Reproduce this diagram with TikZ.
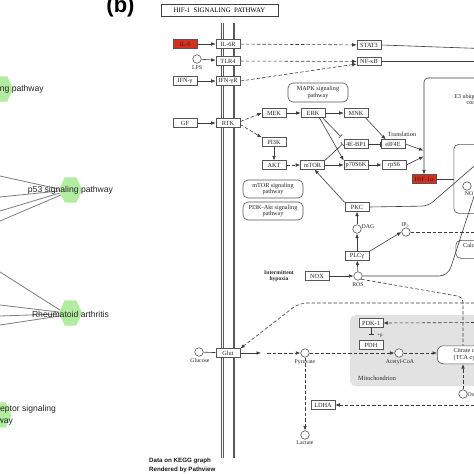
\documentclass[tikz,border=0pt]{standalone}
\usepackage{fontspec}
\setmainfont{Liberation Serif}
\newfontfamily\lsans{Liberation Sans}
\usetikzlibrary{arrows.meta}
\definecolor{hexgreen}{RGB}{178,236,160}
\definecolor{linegray}{RGB}{125,125,125}
\definecolor{kline}{RGB}{60,60,60}
\definecolor{kbox}{RGB}{85,85,85}
\definecolor{kred}{RGB}{218,46,28}
\definecolor{mitogray}{RGB}{226,226,226}
\newcommand\hexfill[1]{\fill[hexgreen] (#1.west) -- ([xshift=6pt]#1.north west) -- ([xshift=-6pt]#1.north east) -- (#1.east) -- ([xshift=-6pt]#1.south east) -- ([xshift=6pt]#1.south west) -- cycle;}
\begin{document}
\begin{tikzpicture}[x=1pt,y=-1pt,
  gene/.style={draw=kbox, fill=white, line width=0.6pt, minimum width=24pt, minimum height=8.5pt, inner sep=0pt, font=\fontsize{6.3}{7}\selectfont, text=black!85},
  redgene/.style={gene, fill=kred},
  cpd/.style={circle, draw=kbox, fill=white, line width=0.6pt, minimum size=8.5pt, inner sep=0pt},
  lbl/.style={inner sep=0pt, font=\fontsize{5.8}{6.4}\selectfont, text=black!85},
  mapbox/.style={draw=kbox, fill=white, line width=0.6pt, rounded corners=5pt, minimum width=60pt, minimum height=18pt, align=center, inner sep=0pt, font=\fontsize{6.2}{6.6}\selectfont, text=black!85},
  arr/.style={kline, line width=0.6pt, -{Latex[length=4.5pt,width=3.6pt]}},
  inh/.style={kline, line width=0.6pt, -{Bar[width=5pt]}},
  dsh/.style={dash pattern=on 3.5pt off 2pt},
  kln/.style={kline, line width=0.6pt},
  hexnode/.style={inner sep=0pt, minimum width=23pt, minimum height=25pt},
  hexlabel/.style={inner sep=0pt, font=\lsans\fontsize{8.6}{12}\selectfont, text=black!85},
  lpedge/.style={linegray, line width=0.8pt},
  memb/.style={black!65, line width=0.7pt}
]
\useasboundingbox (0,0) rectangle (474,474);
\clip (0,0) rectangle (474,474);

% ---------------- left panel ----------------
\node[hexnode] (hxA) at (1.5,89) {};
\node[hexnode] (hxB) at (70.5,190) {};
\node[hexnode] (hxC) at (70.5,313) {};
\node[hexnode] (hxD) at (0,415) {};
\coordinate (lb1) at (0,176);
\coordinate (lb2) at (0,197);
\coordinate (lb3) at (0,211);
\coordinate (lb4) at (0,221);
\coordinate (lc1) at (0,272);
\coordinate (lc2) at (0,305);
\coordinate (lc3) at (0,316);
\coordinate (lc4) at (0,325);
\draw[lpedge] (lb1) -- ([yshift=1pt]hxB.west);
\draw[lpedge] (lb2) -- ([yshift=-1pt]hxB.west);
\draw[lpedge] (lb3) -- ([xshift=1pt,yshift=-3pt]hxB.west);
\draw[lpedge] (lb4) -- ([xshift=2pt,yshift=-5pt]hxB.west);
\draw[lpedge] (lc1) -- ([xshift=1pt,yshift=3pt]hxC.west);
\draw[lpedge] (lc2) -- ([yshift=1pt]hxC.west);
\draw[lpedge] (lc3) -- ([yshift=-1pt]hxC.west);
\draw[lpedge] (lc4) -- ([xshift=1pt,yshift=-3pt]hxC.west);
\hexfill{hxA}
\hexfill{hxB}
\hexfill{hxC}
\hexfill{hxD}
\node[hexlabel, anchor=east] (tA) at (44,89) {TNF signaling pathway};
\node[hexlabel] (tB) at (70.5,190) {p53 signaling pathway};
\node[hexlabel] (tC) at (70.5,314) {Rheumatoid arthritis};
\node[hexlabel, align=center] (tD) at (-3,415) {C-type lectin receptor signaling\\pathway};

% ---------------- right panel ----------------
\node[inner sep=0pt, font=\lsans\bfseries\fontsize{22}{24}\selectfont] (blabel) at (120.5,7) {(b)};
\node[draw=black!75, line width=0.8pt, minimum width=117pt, minimum height=12pt, inner sep=0pt, font=\fontsize{6.8}{7}\selectfont] (title) at (219.5,10.5) {HIF-1\ \ SIGNALING\ \ PATHWAY};

% membrane
\draw[memb] (221.6,23) -- (221.6,458);
\draw[memb] (223.2,23) -- (223.2,458);
\draw[memb] (233.0,23) -- (233.0,458);
\draw[memb] (234.6,23) -- (234.6,458);

% regions
\node[fill=mitogray, rounded corners=5pt, minimum width=150pt, minimum height=71pt, inner sep=0pt, anchor=north west] (mito) at (350,315) {};
\node[lbl, font=\fontsize{6.3}{7}\selectfont, anchor=west] (mitolbl) at (358,378) {Mitochondrion};
\node[draw=kbox, fill=white, line width=0.6pt, rounded corners=5pt, minimum width=100pt, minimum height=69pt, inner sep=0pt, anchor=north west] (inbox) at (453.5,144) {};
\node[mapbox, anchor=north west] (calc) at (455.5,240) {Calcium signaling\\pathway};
\node[mapbox, minimum width=64pt, rounded corners=6pt, anchor=north west] (TCA) at (437,345.5) {Citrate cycle\\(TCA cycle)};
\node[mapbox, minimum height=19pt] (mapk) at (318,92.5) {MAPK signaling\\pathway};
\node[mapbox] (mtorsig) at (273,189) {mTOR signaling\\pathway};
\node[mapbox] (pi3kakt) at (273,211) {PI3K-Akt signaling\\pathway};
\node[lbl, align=center, font=\fontsize{6}{6.6}\selectfont] (e3t) at (477,100) {E3 ubiquitin ligase\\complex};

% genes
\node[redgene] (IL6) at (185,44) {IL-6};
\node[gene] (IL6R) at (228,44) {IL-6R};
\node[gene] (TLR4) at (228,61) {TLR4};
\node[cpd] (LPS) at (197,59) {};
\node[lbl] (LPSl) at (197,67.5) {LPS};
\node[gene] (IFNg) at (185,81) {IFN-γ};
\node[gene] (IFNgR) at (228,81) {IFN-γR};
\node[gene] (GF) at (185,123) {GF};
\node[gene] (RTK) at (228,123) {RTK};
\node[gene] (STAT3) at (369,45) {STAT3};
\node[gene] (NFkB) at (369,61.5) {NF-κB};
\node[gene] (MEK) at (274,113) {MEK};
\node[gene] (ERK) at (313,113) {ERK};
\node[gene] (MNK) at (356,113) {MNK};
\node[gene] (PI3K) at (274,142) {PI3K};
\node[gene] (AKT) at (274,165) {AKT};
\node[gene] (mTOR) at (312.5,165) {mTOR};
\node[gene] (ebp) at (356,144) {4E-BP1};
\node[gene] (eIF4E) at (393,144) {eIF4E};
\node[gene] (p70) at (356,165) {p70S6K};
\node[gene] (rpS6) at (394,165) {rpS6};
\node[lbl, font=\fontsize{6.3}{7}\selectfont] (transl) at (402,134.5) {Translation};
\node[redgene] (HIF) at (424,179) {HIF-1α};
\node[gene] (PKC) at (357,207) {PKC};
\node[cpd] (DAG) at (357,229) {};
\node[lbl, anchor=west] (DAGl) at (361.5,227) {DAG};
\node[cpd] (IP3) at (406,232) {};
\node[lbl] (IP3l) at (405,225.5) {IP\raisebox{-1pt}{\fontsize{4}{4}\selectfont 3}};
\node[gene] (PLCg) at (357,256) {PLCγ};
\node[gene] (NOX) at (317,276) {NOX};
\node[cpd] (ROS) at (358,276) {};
\node[lbl] (ROSl) at (358,284.5) {ROS};
\node[inner sep=0pt, align=center, font=\bfseries\fontsize{5.6}{6.6}\selectfont, text=black!85] (hyp) at (279,276) {Intermittent\\hypoxia};
\node[cpd] (NO) at (467,186) {};
\node[lbl] (NOl) at (469,194) {NO};
\node[gene] (Glut) at (228,353) {Glut};
\node[cpd] (Gluc) at (199,352) {};
\node[lbl] (Glucl) at (200,361) {Glucose};
\node[cpd] (Pyr) at (305,353) {};
\node[lbl] (Pyrl) at (305,362) {Pyruvate};
\node[cpd] (Lac) at (305,435) {};
\node[lbl] (Lacl) at (305,443) {Lactate};
\node[gene] (LDHA) at (323,405) {LDHA};
\node[gene] (PDK1) at (371,323) {PDK-1};
\node[gene] (PDH) at (371,345) {PDH};
\node[lbl, font=\fontsize{5}{5.5}\selectfont] (plusp) at (380,335.5) {+p};
\node[cpd] (AcCoA) at (399,353) {};
\node[lbl] (AcCoAl) at (400,362) {Acetyl-CoA};
\node[cpd] (Ox) at (463,394) {};
\node[lbl, anchor=west] (Oxl) at (467.5,395) {Oxaloacetate};

% coordinates for free ends
\coordinate (st1) at (480,48.5);
\coordinate (nf1) at (480,61.5);
\coordinate (e3c) at (485,78);
\coordinate (tr1) at (423.5,150.5);
\coordinate (tr2) at (423.5,156.5);
\coordinate (pk1) at (428,206);
\coordinate (pk2) at (480,161);
\coordinate (nr1) at (480,178);
\coordinate (nr2) at (448,276);
\coordinate (ip1) at (480,232);
\coordinate (tcv) at (463,297);
\coordinate (gl1) at (480,303);
\coordinate (gl2) at (299,303);
\coordinate (gm1) at (261,353);
\coordinate (gm2) at (267,353);
\coordinate (pd1) at (480,322.5);
\coordinate (ld1) at (480,405);

% connectors
\draw[arr] (IL6) -- (IL6R);
\draw[arr] (LPS) -- (TLR4);
\draw[arr] (IFNg) -- (IFNgR);
\draw[arr] (GF) -- (RTK);
\draw[arr, dsh] (IL6R) -- (STAT3);
\draw[arr, dsh] (TLR4) -- (NFkB);
\draw[arr, dsh] (IFNgR.east) -- ([yshift=-2.5pt]NFkB.west);
\draw[kln] (STAT3.east) -- (st1);
\draw[kln] (NFkB.east) -- (nf1);
\draw[arr, rounded corners=4pt] (e3c) -| (HIF.north);
\draw[arr, dsh] ([yshift=1.5pt]RTK.east) -- (MEK.west);
\draw[arr, dsh] ([yshift=-1.5pt]RTK.east) -- (PI3K.north west);
\draw[arr] (MEK) -- (ERK);
\draw[arr] (ERK) -- (MNK);
\draw[inh] ([xshift=-3pt]ERK.south east) -- ([xshift=-3pt,yshift=3pt]ebp.north west);
\draw[arr] ([xshift=-6pt]ERK.south east) -- (p70.north west);
\draw[inh] (mTOR.north east) -- ([xshift=-1pt]ebp.west);
\draw[inh] (ebp) -- (eIF4E);
\draw[arr] ([xshift=-3pt]MNK.south east) -- ([xshift=5pt]eIF4E.north west);
\draw[arr] (eIF4E.east) -- (tr1);
\draw[arr] (rpS6.east) -- (tr2);
\draw[arr] (PI3K) -- (AKT);
\draw[arr, dsh] (AKT) -- (mTOR);
\draw[arr] (mTOR) -- (p70);
\draw[arr] (p70) -- (rpS6);
\draw[kln] (HIF.east) -- (HIF.east -| inbox.west);
\draw[arr] (PKC.north west) -- ([xshift=2pt]mTOR.south);
\draw[kln, rounded corners=6pt] (PKC.east) -- (pk1) -- (pk2);
\draw[arr] (DAG) -- (PKC);
\draw[arr] (PLCg) -- (DAG);
\draw[arr] (PLCg.north east) -- (IP3.west);
\draw[kln, dsh] (IP3.east) -- (ip1);
\draw[arr] (ROS) -- (PLCg);
\draw[arr] (NOX) -- (ROS);
\draw[kln, rounded corners=9pt] (nr1) -- (nr2) -- (ROS.east);
\draw[kln, dsh, rounded corners=5pt] (ROS.south east) -- (tcv) -- (tcv |- TCA.north);
\draw[arr, dsh, rounded corners=8pt] (gl1) -- (gl2) -- (Glut.north east);
\draw[kln] (Gluc) -- (Glut);
\draw[arr] (Glut.east) -- (gm1);
\draw[arr, dsh] (gm2) -- (Pyr);
\draw[arr, dsh] (Pyr) -- (AcCoA);
\draw[arr, dsh] (Pyr) -- (Lac);
\draw[arr, dsh] (AcCoA) -- (AcCoA -| TCA.west);
\draw[inh] (PDK1.south) -- ([yshift=6pt]PDH.north);
\draw[arr, dsh] (pd1) -- (PDK1.east);
\draw[arr, dsh] (Ox.north) -- (Ox.north |- TCA.south);
\draw[arr, dsh] (ld1) -- (LDHA.east);

% footer
\node[inner sep=0pt, anchor=north west, align=left, font=\lsans\bfseries\fontsize{6.2}{8.5}\selectfont, text=black!90] (footer) at (149,458) {Data on KEGG graph\\Rendered by Pathview};
\end{tikzpicture}
\end{document}
